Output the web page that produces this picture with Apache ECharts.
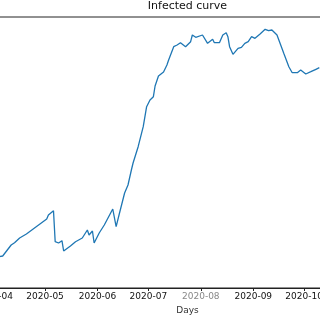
<!DOCTYPE html>
<html>
<head>
<meta charset="utf-8">
<script src="https://cdn.jsdelivr.net/npm/echarts@6/dist/echarts.min.js"></script>
<style>html,body{margin:0;padding:0;background:#fff;overflow:hidden;width:320px;height:320px;}
#c{position:absolute;left:-10px;top:0;width:395px;height:320px;}</style>
</head>
<body>
<div id="c"></div>
<script>
const titleText = 'Infected curve';
const xName = 'Days';
const dates = ['2020-04-04','2020-04-06','2020-04-11','2020-04-13','2020-04-16','2020-04-20','2020-04-24','2020-04-28',
'2020-05-02','2020-05-03','2020-05-06','2020-05-07','2020-05-09','2020-05-11','2020-05-12','2020-05-16','2020-05-19',
'2020-05-23','2020-05-26','2020-05-27','2020-05-29','2020-05-30','2020-06-02','2020-06-05','2020-06-10','2020-06-12',
'2020-06-14','2020-06-17','2020-06-19','2020-06-21','2020-06-22','2020-06-25','2020-06-28','2020-06-30','2020-07-02',
'2020-07-04','2020-07-05','2020-07-07','2020-07-08','2020-07-10','2020-07-12','2020-07-13','2020-07-16','2020-07-18',
'2020-07-20','2020-07-23','2020-07-26','2020-07-27','2020-07-29','2020-08-02','2020-08-05','2020-08-08','2020-08-09',
'2020-08-12','2020-08-14','2020-08-16','2020-08-17','2020-08-18','2020-08-20','2020-08-23','2020-08-25','2020-08-27',
'2020-08-29','2020-08-31','2020-09-02','2020-09-05','2020-09-08','2020-09-10','2020-09-12','2020-09-15','2020-09-19',
'2020-09-22','2020-09-24','2020-09-27','2020-09-29','2020-10-02','2020-10-05','2020-10-08','2020-10-10'];
const infected = [313,320,430,453,500,540,590,640,690,730,773,463,450,473,370,420,463,500,580,530,570,450,550,630,790,613,
750,950,1030,1180,1250,1413,1613,1813,1880,1913,2020,2120,2140,2160,2230,2280,2413,2430,2453,2413,2463,2530,2507,2530,
2447,2487,2453,2453,2530,2553,2513,2413,2337,2397,2407,2447,2463,2513,2497,2540,2587,2573,2580,2530,2347,2213,2153,2153,
2180,2140,2163,2187,2203];

const xMin = new Date(2020, 2, 29, 12).getTime();
const xMax = new Date(2020, 10, 17, 19).getTime();

const chart = echarts.init(document.getElementById('c'), null, {renderer: 'canvas'});
const font = 'DejaVu Sans';
chart.setOption({
  animation: false,
  backgroundColor: '#fff',
  title: {
    text: titleText, left: 'center', top: 1, padding: 0,
    textStyle: {fontFamily: font, fontSize: 11, fontWeight: 'normal', color: '#111'}
  },
  grid: {left: 0, right: 0, top: 17, bottom: 32, show: true, borderColor: '#222', borderWidth: 1,
         backgroundColor: 'transparent', containLabel: false, outerBoundsMode: 'none'},
  xAxis: {
    type: 'time', min: xMin, max: xMax,
    name: xName, nameLocation: 'middle', nameGap: 16,
    nameTextStyle: {fontFamily: font, fontSize: 9, color: '#333'},
    axisLine: {show: true, lineStyle: {color: '#222', width: 1}},
    axisTick: {show: true, inside: false, length: 3, lineStyle: {color: '#222'}},
    splitLine: {show: false},
    axisLabel: {
      fontFamily: font, fontSize: 9, color: '#111', margin: 4,
      formatter: function (v) {
        const d = new Date(v);
        const s = d.getFullYear() + '-' + String(d.getMonth() + 1).padStart(2, '0');
        return d.getMonth() === 7 ? '{g|' + s + '}' : s;
      },
      rich: {g: {fontFamily: font, fontSize: 9, color: '#888'}}
    }
  },
  yAxis: {type: 'value', min: 0, max: 2710, show: false, splitLine: {show: false}},
  series: [{
    type: 'line', data: dates.map((d, i) => [d, infected[i]]),
    showSymbol: false, symbol: 'none',
    lineStyle: {color: '#1f77b4', width: 1.3}
  }]
});
</script>
</body>
</html>
